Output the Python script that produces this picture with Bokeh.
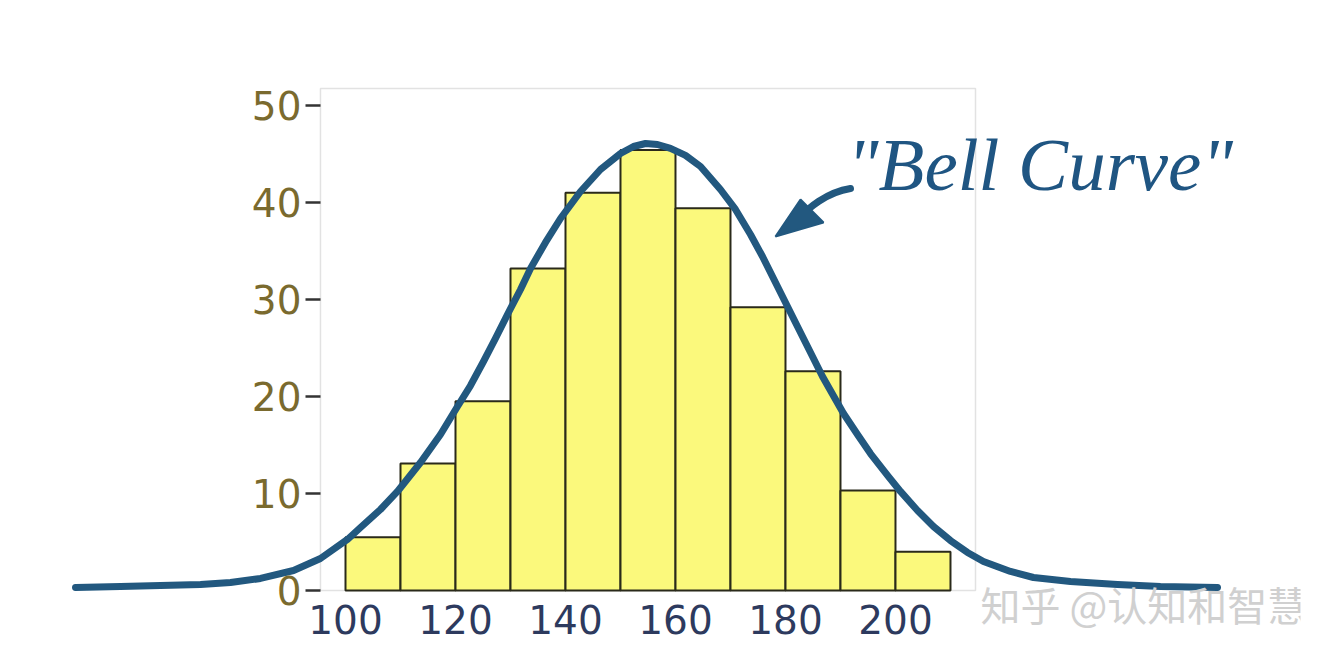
from bokeh.plotting import figure
from bokeh.models import LinearAxis, FixedTicker, Range1d
from bokeh.embed import file_html
from bokeh.resources import INLINE
from bokeh.core.properties import value

# ---- data ----
bin_left = [100, 110, 120, 130, 140, 150, 160, 170, 180, 190, 200]
bin_width = 10
counts = [5.5, 13.1, 19.5, 33.2, 41.0, 45.4, 39.4, 29.2, 22.6, 10.3, 4.0]

curve_x = [50.91, 59.09, 66.36, 73.64, 79.09, 84.55, 90.55, 95.45, 100.36, 102.73,
           106.36, 109.45, 113.64, 117.27, 120.36, 122.73, 125.09, 127.27, 129.45,
           131.82, 133.64, 136.36, 139.09, 142.73, 146.36, 150.0, 152.36, 154.55,
           156.73, 159.09, 161.82, 164.55, 168.18, 170.91, 173.64, 175.82, 177.82,
           180.0, 182.18, 184.55, 186.73, 190.55, 193.09, 195.45, 198.55, 200.91,
           204.0, 206.91, 210.0, 213.09, 216.0, 220.91, 225.09, 231.82, 240.36,
           248.18, 258.55]
curve_y = [0.31, 0.41, 0.52, 0.62, 0.82, 1.24, 2.06, 3.30, 5.26, 6.49,
           8.35, 10.21, 13.20, 16.08, 18.97, 21.13, 23.61, 25.98, 28.45,
           31.03, 33.20, 35.88, 38.35, 41.13, 43.40, 45.05, 45.77, 46.08,
           45.98, 45.57, 44.85, 43.71, 41.34, 39.28, 36.70, 34.43, 32.16,
           29.69, 27.22, 24.54, 22.06, 18.25, 16.08, 14.12, 11.86, 10.21,
           8.25, 6.60, 5.15, 3.92, 2.99, 1.96, 1.34, 0.93, 0.62,
           0.41, 0.31]

x_ticks = [100, 120, 140, 160, 180, 200]
y_ticks = [0, 10, 20, 30, 40, 50]
annotation_text = '"Bell Curve"'
watermark_text = "知乎 @认知和智慧"

# ---- layout ----
X0, X1 = 44.545, 273.64
Y0, Y1 = -5.67, 58.76
BOX_L, BOX_R, BOX_T = 95.45, 214.55, 51.75

curve_color = "#22587f"

p = figure(width=1328, height=648, output_backend="svg", toolbar_location=None,
           x_range=Range1d(X0, X1), y_range=Range1d(Y0, Y1),
           x_axis_location=None, y_axis_location=None,
           min_border_left=40, min_border_right=28, min_border_top=20, min_border_bottom=3)
p.outline_line_color = None
p.grid.visible = False
p.background_fill_color = "white"

# light frame box
p.quad(left=[BOX_L], right=[BOX_R], bottom=[0], top=[BOX_T], fill_color=None,
       line_color="#e2e2e2", line_width=1.5)

# histogram bars
p.quad(left=bin_left, right=[b + bin_width for b in bin_left], bottom=0, top=counts,
       fill_color="#fbf97c", line_color="#2a2a1a", line_width=2)

# bell curve
p.line(curve_x, curve_y, line_color=curve_color, line_width=7, line_join="round", line_cap="round")

# y axis
yax = LinearAxis(fixed_location=BOX_L, ticker=FixedTicker(ticks=y_ticks))
yax.axis_line_color = None
yax.major_tick_out = 15
yax.major_tick_in = 0
yax.major_tick_line_color = "#333333"
yax.major_tick_line_width = 2.5
yax.minor_tick_line_color = None
yax.major_label_text_font = "DejaVu Sans"
yax.major_label_text_font_size = "39px"
yax.major_label_text_color = "#7a6a2e"
yax.major_label_standoff = 4
p.add_layout(yax, "left")

# x axis
xax = LinearAxis(fixed_location=0, ticker=FixedTicker(ticks=x_ticks))
xax.axis_line_color = None
xax.major_tick_out = 0
xax.major_tick_in = 0
xax.major_tick_line_color = None
xax.minor_tick_line_color = None
xax.major_label_text_font = "DejaVu Sans"
xax.major_label_text_font_size = "39px"
xax.major_label_text_color = "#2d3a5e"
xax.major_label_standoff = 15
p.add_layout(xax, "below")

# annotation text
p.text(x=[191.2], y=[43.9], text=[annotation_text], text_font=value("Liberation Serif"),
       text_font_style="italic", text_font_size="75px", text_color="#1f5582",
       text_baseline="alphabetic", text_align="left")

# arrow (curved shaft + head)
p.bezier(x0=[191.82], y0=[41.44], x1=[181.82], y1=[38.14],
         cx0=[187.27], cy0=[41.03], cx1=[184.18], cy1=[39.38],
         line_color=curve_color, line_width=7, line_cap="round")
p.patch(x=[178.18, 182.73, 186.91], y=[36.49, 40.31, 37.94],
        fill_color=curve_color, line_color=curve_color, line_width=2)

# watermark
p.text(x=[215.45], y=[-1.35], text=[watermark_text], text_font=value("Noto Sans CJK SC"),
       text_font_size="40px", text_color="#d0d0d0", text_baseline="middle", text_align="left")

open("out.html", "w").write(file_html(p, INLINE))
